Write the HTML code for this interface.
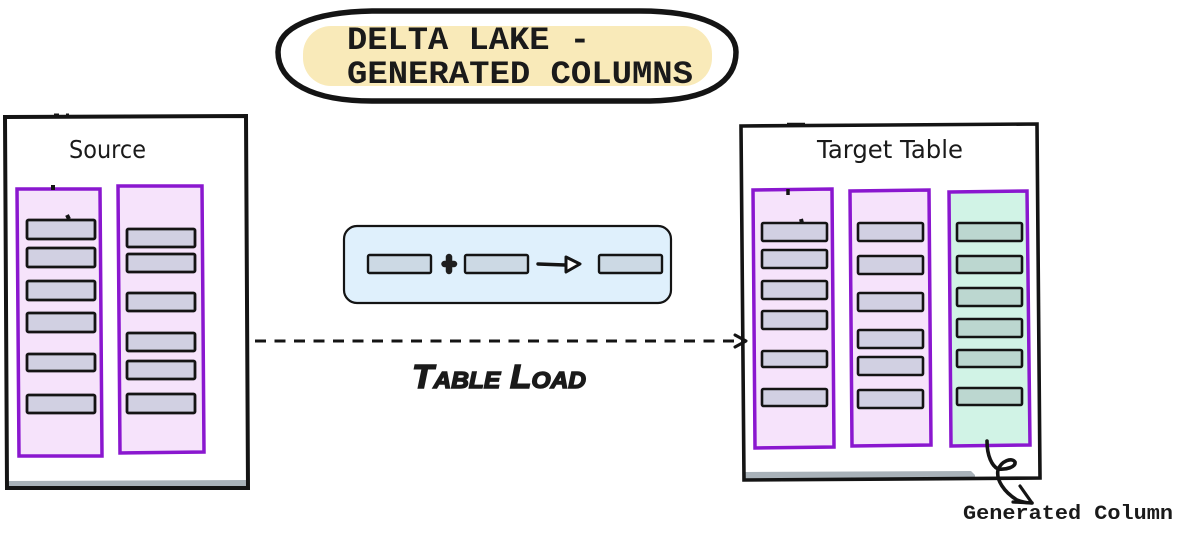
<!DOCTYPE html>
<html>
<head>
<meta charset="utf-8">
<style>
html,body{margin:0;padding:0;background:#fff;width:1185px;height:535px;overflow:hidden}
svg{display:block}
.mono{font-family:"Liberation Mono",monospace;font-weight:700;fill:#1a1a1a}
.hand{font-family:"DejaVu Sans","Liberation Sans",sans-serif;fill:#1a1a1a}
</style>
</head>
<body>
<svg width="1185" height="535" viewBox="0 0 1185 535" xmlns="http://www.w3.org/2000/svg">
<!-- Title -->
<path d="M278 52 C278 28 312 12 372 11 L640 11 C702 11 736 28 736 52 C736 82 708 100 650 101 L372 101 C312 101 278 82 278 52 Z" fill="#fff" stroke="#141414" stroke-width="5.5"/>
<rect x="303" y="26" width="409" height="60" rx="28" fill="#f9eab9"/>
<text class="mono" x="347" y="49" font-size="32" textLength="243" lengthAdjust="spacingAndGlyphs">DELTA LAKE -</text>
<text class="mono" x="347" y="83" font-size="32" textLength="346" lengthAdjust="spacingAndGlyphs">GENERATED COLUMNS</text>

<!-- Source box -->
<polygon points="5,117 246,116 248,488 7,488" fill="#fff"/>
<polygon points="9,481 247,480 247,487 9,488" fill="#a9b2b9"/>
<polygon points="5,117 246,116 248,488 7,488" fill="none" stroke="#141414" stroke-width="4"/>
<path d="M54 115.500h5M66 115.500h3" stroke="#141414" stroke-width="4"/>
<text class="hand" x="69" y="158" font-size="25" textLength="77" lengthAdjust="spacingAndGlyphs">Source</text>

<polygon points="17,189 100,189 102,456 19,456" fill="#f6e3fb" stroke="#8a17cf" stroke-width="3.5"/>
<polygon points="118,186 202,186 204,452 120,453" fill="#f6e3fb" stroke="#8a17cf" stroke-width="3.5"/>
<path d="M53 185v5" stroke="#141414" stroke-width="4"/>
<path d="M67 215l2 4" stroke="#141414" stroke-width="4"/>
<g fill="#d1d0e2" stroke="#141414" stroke-width="2.8">
<rect x="27" y="220" width="68" height="19" rx="1.5"/>
<rect x="27" y="248" width="68" height="19" rx="1.5"/>
<rect x="27" y="281" width="68" height="19" rx="1.5"/>
<rect x="27" y="313" width="68" height="19" rx="1.5"/>
<rect x="27" y="354" width="68" height="17" rx="1.5"/>
<rect x="27" y="395" width="68" height="18" rx="1.5"/>
<rect x="127" y="229" width="68" height="18" rx="1.5"/>
<rect x="127" y="254" width="68" height="18" rx="1.5"/>
<rect x="127" y="293" width="68" height="18" rx="1.5"/>
<rect x="127" y="333" width="68" height="18" rx="1.5"/>
<rect x="127" y="361" width="68" height="18" rx="1.5"/>
<rect x="127" y="394" width="68" height="19" rx="1.5"/>
</g>

<!-- Target box -->
<polygon points="741,126 1037,124 1040,478 744,480" fill="#fff"/>
<polygon points="745,472 971,471 975,475 975,479 745,479" fill="#a9b2b9"/>
<polygon points="741,126 1037,124 1040,478 744,480" fill="none" stroke="#141414" stroke-width="3.6"/>
<path d="M787 124h18" stroke="#141414" stroke-width="2.5"/>
<text class="hand" x="817" y="158" font-size="25" textLength="146" lengthAdjust="spacingAndGlyphs">Target Table</text>

<polygon points="753,190 832,189 834,447 755,448" fill="#f6e3fb" stroke="#8a17cf" stroke-width="3.5"/>
<polygon points="850,191 929,190 931,445 852,446" fill="#f6e3fb" stroke="#8a17cf" stroke-width="3.5"/>
<polygon points="949,192 1027,191 1030,445 951,446" fill="#d1f3e6" stroke="#8a17cf" stroke-width="3.5"/>
<path d="M788 189v6" stroke="#141414" stroke-width="3.5"/>
<path d="M801 219l1 4" stroke="#141414" stroke-width="4"/>
<g fill="#d1d0e2" stroke="#141414" stroke-width="2.6">
<rect x="762" y="223" width="65" height="18" rx="1.5"/>
<rect x="762" y="250" width="65" height="18" rx="1.5"/>
<rect x="762" y="281" width="65" height="18" rx="1.5"/>
<rect x="762" y="311" width="65" height="18" rx="1.5"/>
<rect x="762" y="351" width="65" height="16" rx="1.5"/>
<rect x="762" y="389" width="65" height="17" rx="1.5"/>
<rect x="858" y="223" width="65" height="18" rx="1.5"/>
<rect x="858" y="256" width="65" height="18" rx="1.5"/>
<rect x="858" y="293" width="65" height="18" rx="1.5"/>
<rect x="858" y="330" width="65" height="18" rx="1.5"/>
<rect x="858" y="357" width="65" height="18" rx="1.5"/>
<rect x="858" y="390" width="65" height="18" rx="1.5"/>
</g>
<g fill="#bcd7d0" stroke="#141414" stroke-width="2.6">
<rect x="957" y="223" width="65" height="18" rx="1.5"/>
<rect x="957" y="256" width="65" height="17" rx="1.5"/>
<rect x="957" y="288" width="65" height="18" rx="1.5"/>
<rect x="957" y="319" width="65" height="18" rx="1.5"/>
<rect x="957" y="350" width="65" height="17" rx="1.5"/>
<rect x="957" y="388" width="65" height="17" rx="1.5"/>
</g>

<!-- Curly arrow -->
<path d="M987 441 C987 456 992 466 998 469 C1006 470 1016 467 1015 462 C1012 457 1001 461 998 470 C996 480 1004 492 1017 500 C1022 502 1027 503 1032 503" fill="none" stroke="#141414" stroke-width="3.6" stroke-linecap="round"/>
<path d="M1020 486 L1032 503 L1013 502" fill="none" stroke="#141414" stroke-width="3.2" stroke-linecap="round" stroke-linejoin="round"/>
<text class="mono" x="963" y="519" font-size="20" textLength="210" lengthAdjust="spacingAndGlyphs">Generated Column</text>

<!-- Blue box -->
<rect x="344" y="226" width="327" height="77" rx="13" fill="#dff0fc" stroke="#141414" stroke-width="2.2"/>
<g fill="#ccd9e4" stroke="#141414" stroke-width="2.4">
<rect x="368" y="255" width="63" height="18" rx="1.5"/>
<rect x="465" y="255" width="63" height="18" rx="1.5"/>
<rect x="599" y="255" width="63" height="18" rx="1.5"/>
</g>
<path d="M449 257 V271 M444.500 264 H454" stroke="#1f1f1f" stroke-width="6.500" stroke-linecap="round" fill="none"/>
<path d="M538 264 L565 265" stroke="#141414" stroke-width="3.4" stroke-linecap="round"/>
<polygon points="566,257 580,264 566,272" fill="#fff" stroke="#141414" stroke-width="3" stroke-linejoin="round"/>

<!-- Dashed arrow -->
<path d="M255 341 H745" stroke="#141414" stroke-width="3" stroke-dasharray="11 8.5" fill="none"/>
<path d="M735 335 L746 341 L735 347" fill="none" stroke="#141414" stroke-width="3" stroke-linecap="round" stroke-linejoin="round"/>

<!-- Label -->
<text x="412" y="388" font-family="'Liberation Sans',sans-serif" font-weight="700" font-style="italic" font-size="33" style="font-variant:small-caps" fill="#1a1a1a" stroke="#1a1a1a" stroke-width="1.5" textLength="174" lengthAdjust="spacingAndGlyphs">Table Load</text>
</svg>
</body>
</html>
